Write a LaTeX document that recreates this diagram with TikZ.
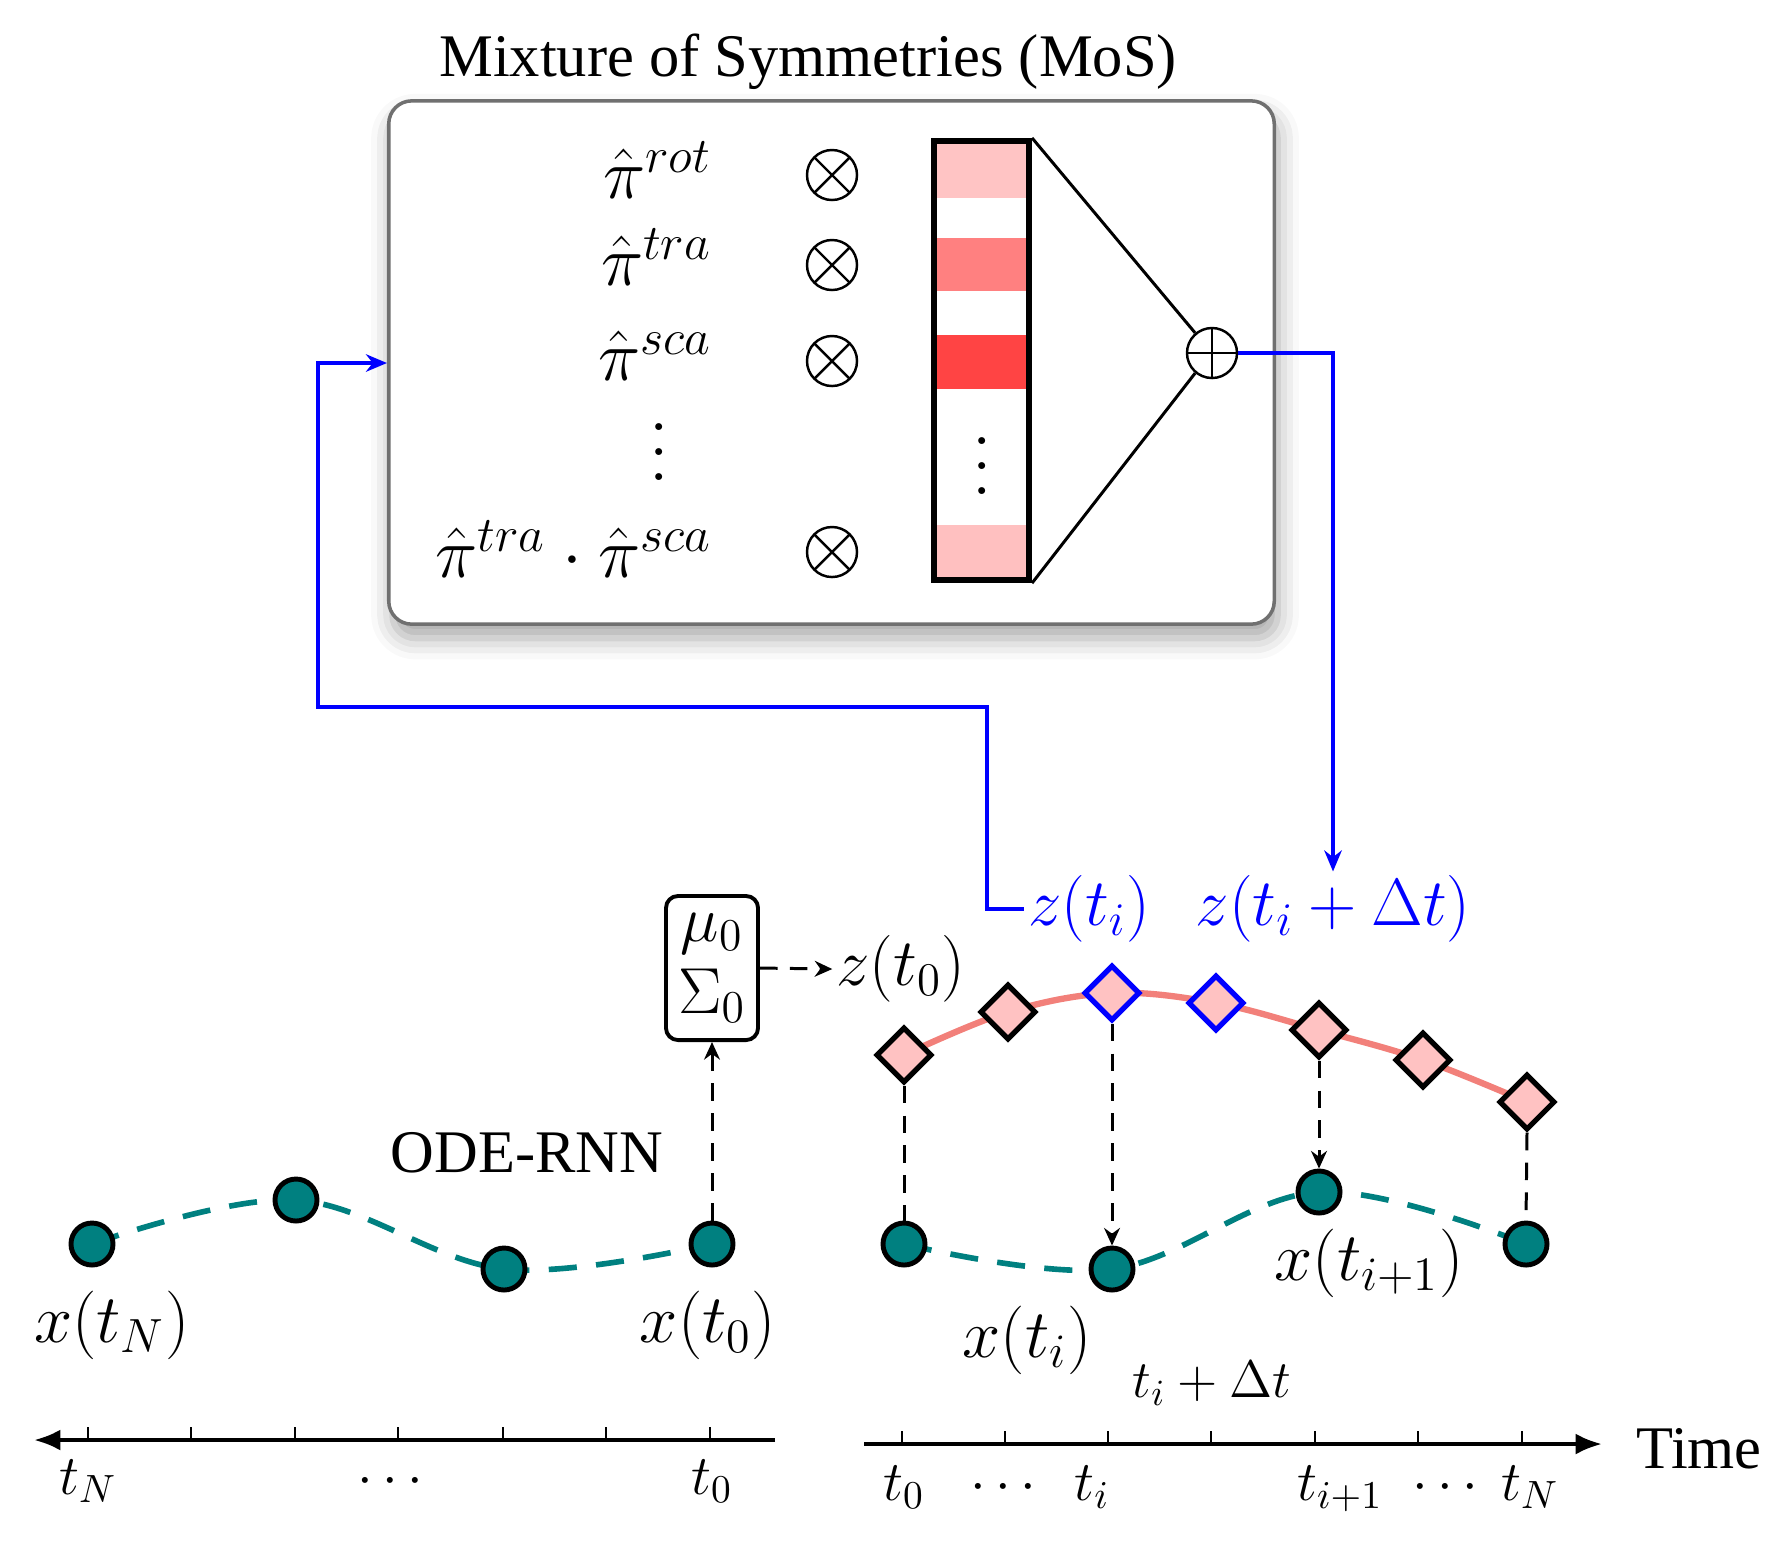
\RequirePackage{fix-cm}
\documentclass[tikz,border=0pt]{standalone}
\usepackage[no-math]{fontspec}
\setmainfont{Liberation Serif}
\usetikzlibrary{shapes.geometric,arrows.meta,shadows.blur,calc}
\definecolor{tealc}{RGB}{0,128,128}
\definecolor{salmonc}{RGB}{242,128,122}
\definecolor{pinkc}{RGB}{255,194,194}
\definecolor{bandA}{RGB}{255,196,196}
\definecolor{bandB}{RGB}{255,128,128}
\definecolor{bandC}{RGB}{255,68,68}
\definecolor{bandD}{RGB}{255,192,192}
\definecolor{boxgray}{RGB}{112,112,112}
\newcommand{\vdotsx}{\vbox{\baselineskip=7.2pt\lineskiplimit=-20pt\hbox{$.$}\hbox{$.$}\hbox{$.$}}}
\tikzset{
  textf/.style={font=\fontsize{17.2}{20}\selectfont, inner sep=1pt},
  pilab/.style={font=\fontsize{20.3}{24}\selectfont, inner sep=1pt},
  xlab/.style={font=\fontsize{19.5}{23}\selectfont, inner sep=1pt},
  zlab/.style={font=\fontsize{19}{22}\selectfont, inner sep=1pt},
  tlab/.style={font=\fontsize{16}{19}\selectfont, inner sep=1pt},
  mosbox/.style={draw=boxgray, line width=1pt, fill=white, rounded corners=0.23cm,
    minimum width=8.85cm, minimum height=5.23cm,
    blur shadow={shadow xshift=1pt, shadow yshift=-4pt, shadow blur radius=6pt, shadow opacity=35}},
  otim/.style={circle, draw, line width=0.7pt, minimum size=0.5cm, inner sep=0pt,
    path picture={\draw[line width=0.7pt] (path picture bounding box.north west) -- (path picture bounding box.south east)
      (path picture bounding box.north east) -- (path picture bounding box.south west);}},
  oplusn/.style={circle, draw, line width=0.7pt, minimum size=0.5cm, inner sep=0pt, fill=white,
    path picture={\draw[line width=0.7pt] (path picture bounding box.north) -- (path picture bounding box.south)
      (path picture bounding box.east) -- (path picture bounding box.west);}},
  barbox/.style={draw, line width=1.7pt, minimum width=0.95cm, minimum height=4.39cm, inner sep=0pt},
  tri/.style={line width=0.85pt},
  blueline/.style={draw=blue, line width=0.9pt, -{Stealth[length=6pt,width=5pt]}},
  dotc/.style={circle, draw=black, line width=1.4pt, fill=tealc, minimum size=0.42cm, inner sep=0pt},
  dmd/.style={diamond, aspect=1, draw=black, line width=1.5pt, fill=pinkc, minimum size=0.56cm, inner sep=0pt},
  dmdb/.style={dmd, draw=blue},
  tealdash/.style={draw=tealc, line width=1.6pt, dash pattern=on 8pt off 5.5pt},
  salmonln/.style={draw=salmonc, line width=1.8pt},
  dashln/.style={draw=black, line width=0.85pt, dash pattern=on 5pt off 3.5pt},
  dasharr/.style={dashln, -{Stealth[length=5pt,width=4.5pt]}},
  mubox/.style={draw, line width=1.1pt, rounded corners=0.12cm, minimum width=0.92cm, minimum height=1.44cm,
    align=center, inner sep=1pt, font=\fontsize{18.5}{20.5}\selectfont},
  axisln/.style={line width=1.2pt},
  tickln/.style={line width=0.7pt},
}
\begin{document}
\begin{tikzpicture}[x=0.01cm,y=-0.01cm]
\useasboundingbox (0,0) rectangle (1788,1556);
% title and box
\node[textf, anchor=base] (title) at (808,76) {Mixture of Symmetries (MoS)};
\node[mosbox] (mos) at (831.5,362.5) {};
\node[pilab, anchor=base east] (pirot) at (716,198) {$\hat{\pi}^{rot}$};
\node[pilab, anchor=base east] (pitra) at (716,285) {$\hat{\pi}^{tra}$};
\node[pilab, anchor=base east] (pisca) at (716,380) {$\hat{\pi}^{sca}$};
\node[pilab] (pidots) at (659,452) {\vdotsx};
\node[pilab, anchor=base east] (pits) at (716,577) {$\hat{\pi}^{tra}\cdot\hat{\pi}^{sca}$};
\node[otim] (o1) at (832,175) {};
\node[otim] (o2) at (832,265) {};
\node[otim] (o3) at (832,361) {};
\node[otim] (o4) at (832,552) {};
% weight bar
\fill[bandA] (933,140) rectangle (1030,198);
\fill[bandB] (933,238) rectangle (1030,291);
\fill[bandC] (933,335) rectangle (1030,389);
\fill[bandD] (933,525) rectangle (1030,579);
\node[barbox] (bar) at (981.5,360.5) {};
\node[pilab] (bardots) at (982,466) {\vdotsx};
\node[oplusn] (plus) at (1212,353) {};
\draw[tri] (bar.north east) -- (plus.130);
\draw[tri] (bar.south east) -- (plus.230);
% latent labels
\node[zlab, text=blue] (zti) at (1089,909) {$z(t_i)$};
\node[zlab, text=blue] (ztd) at (1333,909) {$z(t_i+\Delta t)$};
\draw[blueline] (plus.east) -| (ztd.north);
\draw[blueline] (zti.west) -| (987,707) -- (318,707) |- (mos.west |- 0,363);
% encoder
\node[mubox] (mu) at (712,968) {$\mu_0$\\$\Sigma_0$};
\node[zlab] (zt0) at (901,969) {$z(t_0)$};
\draw[dasharr] (mu.east) -- (zt0.west);
\node[textf, anchor=base] (ode) at (527,1172) {ODE-RNN};
% left observations
\draw[tealdash] plot[smooth, tension=0.6] coordinates {(92,1244) (296,1200) (504,1269) (712,1244)};
\node[dotc] (c1) at (92,1244) {};
\node[dotc] (c2) at (296,1200) {};
\node[dotc] (c3) at (504,1269) {};
\node[dotc] (c4) at (712,1244) {};
\draw[dasharr] (c4.north) -- (mu.south);
\node[xlab] (xtN) at (112,1325) {$x(t_N)$};
\node[xlab] (xt0) at (708,1325) {$x(t_0)$};
% latent trajectory
\coordinate (q1) at (904,1055);
\coordinate (q2) at (1008,1012);
\coordinate (q3) at (1112,993);
\coordinate (q4) at (1216,1003);
\coordinate (q5) at (1319,1030);
\coordinate (q6) at (1423,1060);
\coordinate (q7) at (1527,1102);
\draw[salmonln] plot[smooth, tension=0.6] coordinates {(q1) (q2) (q3) (q4) (q5) (q6) (q7)};
\node[dmd] (D1) at (q1) {};
\node[dmd] (D2) at (q2) {};
\node[dmdb] (D3) at (q3) {};
\node[dmdb] (D4) at (q4) {};
\node[dmd] (D5) at (q5) {};
\node[dmd] (D6) at (q6) {};
\node[dmd] (D7) at (q7) {};
% right observations
\draw[tealdash] plot[smooth, tension=0.6] coordinates {(904,1244) (1112,1269) (1319,1192) (1526,1244)};
\node[dotc] (R1) at (904,1244) {};
\node[dotc] (R2) at (1112,1269) {};
\node[dotc] (R3) at (1319,1192) {};
\node[dotc] (R4) at (1526,1244) {};
\draw[dashln] (D1.south) -- (R1.north);
\draw[dasharr] (D3.south) -- (R2.north);
\draw[dasharr] (D5.south) -- (R3.north);
\draw[dashln] (D7.south) -- (R4.north);
\node[xlab] (xti) at (1027,1340) {$x(t_i)$};
\node[xlab] (xti1) at (1369,1263) {$x(t_{i+1})$};
\node[tlab, font=\fontsize{15}{18}\selectfont] (tid) at (1212,1383) {$t_i+\Delta t$};
% left axis
\coordinate (la0) at (775,1440);
\coordinate (la1) at (34,1440);
\draw[axisln, -{Latex[length=7.5pt,width=6pt]}] (la0) -- (la1);
\foreach \x in {88,191,295,398,503,606,710} \draw[tickln] (\x,1440) -- (\x,1427);
\node[tlab, anchor=base] (ltN) at (88,1494) {$t_N$};
\node[tlab, anchor=base] (ldots) at (390,1494) {$\cdots$};
\node[tlab, anchor=base] (lt0) at (712,1494) {$t_0$};
% right axis
\coordinate (ra0) at (864,1444);
\coordinate (ra1) at (1602,1444);
\draw[axisln, -{Latex[length=7.5pt,width=6pt]}] (ra0) -- (ra1);
\foreach \x in {902,1005,1108,1211,1315,1418,1522} \draw[tickln] (\x,1444) -- (\x,1431);
\node[tlab, anchor=base] (rt0) at (904,1500) {$t_0$};
\node[tlab, anchor=base] (rdots1) at (1003,1500) {$\cdots$};
\node[tlab, anchor=base] (rti) at (1092,1500) {$t_i$};
\node[tlab, anchor=base] (rti1) at (1340,1500) {$t_{i+1}$};
\node[tlab, anchor=base] (rdots2) at (1445,1500) {$\cdots$};
\node[tlab, anchor=base] (rtN) at (1530,1500) {$t_N$};
\node[textf, anchor=base west] (time) at (1632,1468) {Time};
\end{tikzpicture}
\end{document}
